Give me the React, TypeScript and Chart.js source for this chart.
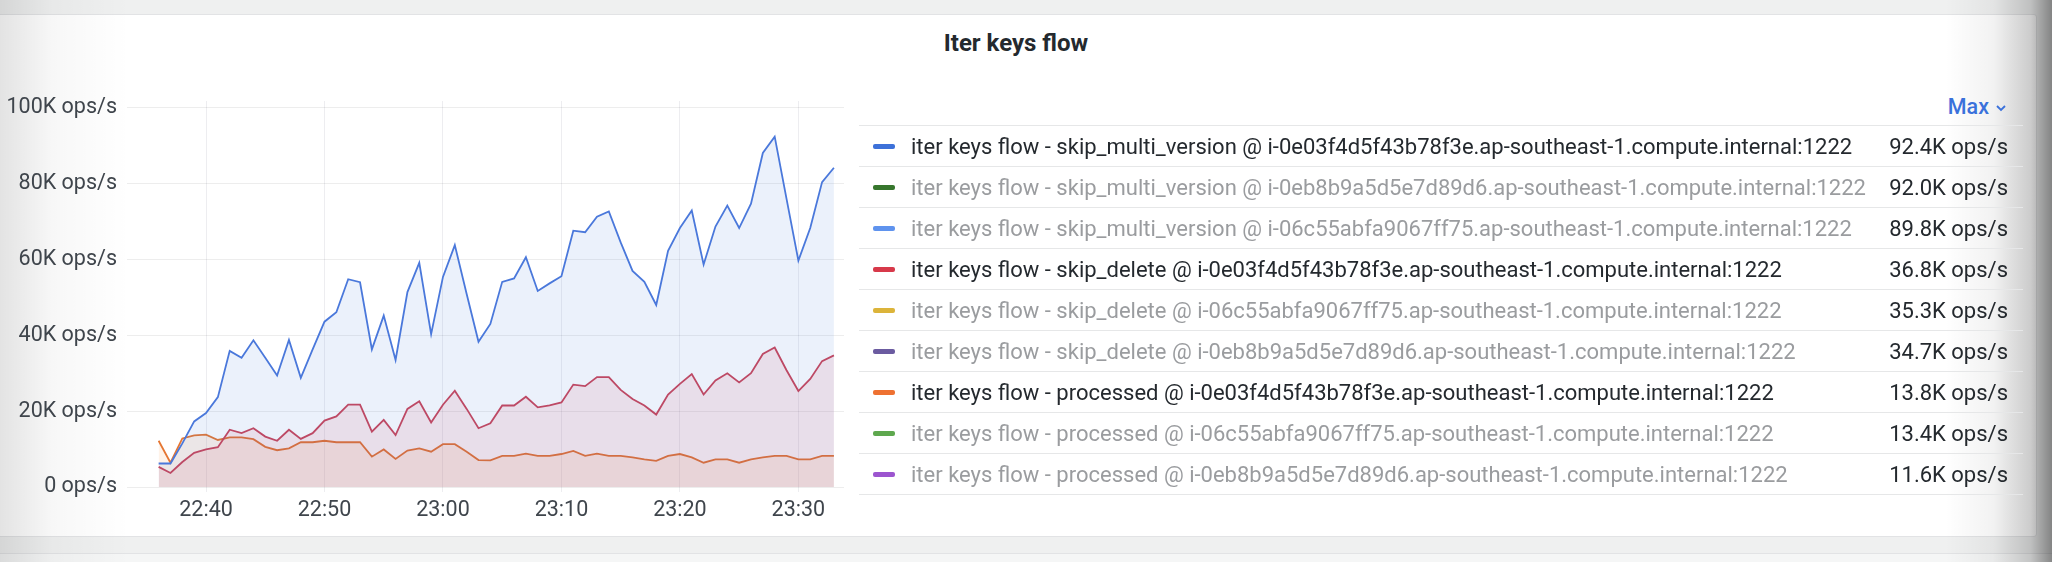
import React, { useEffect, useRef } from "react";
import { Chart, registerables } from "chart.js";

Chart.register(...registerables);

const timeLabels = [
  "22:36", "22:37", "22:38", "22:39", "22:40", "22:41", "22:42", "22:43", "22:44", "22:45",
  "22:46", "22:47", "22:48", "22:49", "22:50", "22:51", "22:52", "22:53", "22:54", "22:55",
  "22:56", "22:57", "22:58", "22:59", "23:00", "23:01", "23:02", "23:03", "23:04", "23:05",
  "23:06", "23:07", "23:08", "23:09", "23:10", "23:11", "23:12", "23:13", "23:14", "23:15",
  "23:16", "23:17", "23:18", "23:19", "23:20", "23:21", "23:22", "23:23", "23:24", "23:25",
  "23:26", "23:27", "23:28", "23:29", "23:30", "23:31", "23:32", "23:33",
];

// values in K ops/s
const skipMultiVersion = [
  6.2, 6.2, 11.5, 17.3, 19.5, 23.7, 35.9, 34.1, 38.7, 34.1,
  29.4, 38.8, 28.8, 36.3, 43.6, 46.1, 54.8, 54.0, 36.3, 45.2,
  33.5, 51.4, 59.1, 40.3, 55.4, 63.8, 50.9, 38.3, 43.0, 54.1,
  55.0, 60.6, 51.7, 53.7, 55.6, 67.6, 67.2, 71.3, 72.7, 64.5,
  57.0, 54.1, 48.0, 62.3, 68.3, 72.9, 58.7, 68.7, 74.2, 68.3,
  74.7, 88.1, 92.4, 76.0, 59.7, 68.3, 80.4, 84.2,
];

const skipDelete = [
  5.3, 3.7, 6.6, 9.0, 9.9, 10.5, 15.1, 14.2, 15.5, 13.3,
  12.2, 15.1, 12.7, 14.2, 17.5, 18.6, 21.7, 21.7, 14.6, 17.7,
  13.7, 20.6, 22.6, 17.0, 21.7, 25.4, 20.6, 15.5, 16.8, 21.5,
  21.5, 23.8, 21.0, 21.5, 22.3, 27.0, 26.6, 29.0, 29.0, 25.6,
  23.2, 21.5, 19.1, 24.4, 27.2, 29.8, 24.4, 28.1, 30.0, 27.6,
  30.0, 35.1, 36.8, 30.8, 25.3, 28.5, 33.2, 34.7,
];

const processed = [
  12.2, 6.4, 12.8, 13.6, 13.8, 12.4, 13.1, 13.1, 12.6, 10.6,
  9.7, 10.2, 11.8, 11.8, 12.2, 11.8, 11.8, 11.8, 8.0, 9.9,
  7.4, 9.6, 10.2, 9.3, 11.3, 11.3, 9.3, 7.1, 7.0, 8.2,
  8.2, 8.8, 8.2, 8.2, 8.7, 9.5, 8.2, 8.8, 8.2, 8.2,
  7.8, 7.3, 6.9, 8.2, 8.7, 7.8, 6.4, 7.3, 7.3, 6.4,
  7.3, 7.8, 8.2, 8.2, 7.3, 7.3, 8.2, 8.2,
];

const xTickLabels = ["22:40", "22:50", "23:00", "23:10", "23:20", "23:30"];
const yTickValues = [0, 20, 40, 60, 80, 100];

const legendNames = [
  "iter keys flow - skip_multi_version @ i-0e03f4d5f43b78f3e.ap-southeast-1.compute.internal:1222",
  "iter keys flow - skip_multi_version @ i-0eb8b9a5d5e7d89d6.ap-southeast-1.compute.internal:1222",
  "iter keys flow - skip_multi_version @ i-06c55abfa9067ff75.ap-southeast-1.compute.internal:1222",
  "iter keys flow - skip_delete @ i-0e03f4d5f43b78f3e.ap-southeast-1.compute.internal:1222",
  "iter keys flow - skip_delete @ i-06c55abfa9067ff75.ap-southeast-1.compute.internal:1222",
  "iter keys flow - skip_delete @ i-0eb8b9a5d5e7d89d6.ap-southeast-1.compute.internal:1222",
  "iter keys flow - processed @ i-0e03f4d5f43b78f3e.ap-southeast-1.compute.internal:1222",
  "iter keys flow - processed @ i-06c55abfa9067ff75.ap-southeast-1.compute.internal:1222",
  "iter keys flow - processed @ i-0eb8b9a5d5e7d89d6.ap-southeast-1.compute.internal:1222",
];
const legendMax = [
  "92.4K ops/s", "92.0K ops/s", "89.8K ops/s",
  "36.8K ops/s", "35.3K ops/s", "34.7K ops/s",
  "13.8K ops/s", "13.4K ops/s", "11.6K ops/s",
];
const legendShown = [true, false, false, true, false, false, true, false, false];

const legendColors = [
  "#3d71d9", "#37762d", "#5f93ee", "#d7394a", "#dcb43a", "#6b5ba0", "#ee7131", "#5ea84e", "#9c55cf",
];

const FONT = "Roboto, 'Noto Sans', sans-serif";

const toMin = (s: string) => {
  const [h, m] = s.split(":").map(Number);
  return h * 60 + m;
};
const fmtMin = (v: number) => {
  const h = Math.floor(v / 60);
  const m = Math.round(v - h * 60);
  return `${String(h).padStart(2, "0")}:${String(m).padStart(2, "0")}`;
};

function IterChart() {
  const ref = useRef<HTMLCanvasElement | null>(null);
  useEffect(() => {
    if (!ref.current) return;
    const mk = (vals: number[]) => timeLabels.map((t, i) => ({ x: toMin(t), y: vals[i] }));
    const chart = new Chart(ref.current, {
      type: "line",
      data: {
        datasets: [
          {
            label: legendNames[0],
            data: mk(skipMultiVersion),
            borderColor: "#4a78db",
            backgroundColor: "rgba(61,113,217,0.10)",
            fill: "origin",
            borderWidth: 1.8,
            pointRadius: 0,
            tension: 0,
          },
          {
            label: legendNames[3],
            data: mk(skipDelete),
            borderColor: "#cc4458",
            backgroundColor: "rgba(224,47,68,0.10)",
            fill: "origin",
            borderWidth: 1.8,
            pointRadius: 0,
            tension: 0,
          },
          {
            label: legendNames[6],
            data: mk(processed),
            borderColor: "#e57632",
            backgroundColor: "rgba(255,120,10,0.09)",
            fill: "origin",
            borderWidth: 1.8,
            pointRadius: 0,
            tension: 0,
          },
        ],
      },
      options: {
        animation: false,
        responsive: false,
        maintainAspectRatio: false,
        devicePixelRatio: 1,
        layout: { padding: { top: 101, right: 16, bottom: 0, left: 0 } },
        plugins: { legend: { display: false }, tooltip: { enabled: false }, title: { display: false } },
        scales: {
          x: {
            type: "linear",
            min: 22 * 60 + 33.33,
            max: 23 * 60 + 33.85,
            afterBuildTicks: (s: any) => {
              s.ticks = xTickLabels.map((l) => ({ value: toMin(l) }));
            },
            afterFit: (s: any) => {
              s.height = 53;
            },
            border: { display: false },
            grid: { color: "rgba(60,60,90,0.09)", lineWidth: 1, drawTicks: true, tickLength: 5 },
            ticks: {
              autoSkip: false,
              maxRotation: 0,
              padding: 6,
              color: "#3f454c",
              font: { family: FONT, size: 21.5 },
              callback: (v: any) => fmtMin(Number(v)),
            },
          },
          y: {
            min: 0,
            max: 101.8,
            afterBuildTicks: (s: any) => {
              s.ticks = yTickValues.map((v) => ({ value: v }));
            },
            afterFit: (s: any) => {
              s.width = 127;
            },
            border: { display: false },
            grid: { color: "rgba(0,0,0,0.07)", lineWidth: 1, drawTicks: false },
            ticks: {
              padding: 10,
              color: "#3f454c",
              font: { family: FONT, size: 21.5 },
              callback: (v: any) => (Number(v) === 0 ? "0 ops/s" : `${v}K ops/s`),
            },
          },
        },
      },
    });
    return () => chart.destroy();
  }, []);
  return (
    <canvas
      ref={ref}
      width={860}
      height={540}
      style={{ position: "absolute", left: 0, top: 0, width: 860, height: 540 }}
    />
  );
}

export default function App() {
  useEffect(() => {
    document.body.style.margin = "0";
  }, []);
  const rowTop = 126;
  const rowH = 41;
  return (
    <div
      style={{
        position: "fixed",
        left: 0,
        top: 0,
        width: 2052,
        height: 562,
        overflow: "hidden",
        background: "#eff0f0",
        fontFamily: FONT,
      }}
    >
      {/* panel */}
      <div
        style={{
          position: "absolute",
          left: -4,
          top: 14,
          width: 2041,
          height: 523,
          background: "#ffffff",
          border: "1px solid #e2e3e5",
          borderRadius: 3,
          boxSizing: "border-box",
        }}
      />
      {/* lower band */}
      <div
        style={{
          position: "absolute",
          left: 0,
          top: 553,
          width: 2052,
          height: 12,
          background: "#f5f6f6",
          borderTop: "1px solid #e2e3e5",
        }}
      />
      {/* left shading */}
      <div
        style={{
          position: "absolute",
          left: 0,
          top: 0,
          width: 130,
          height: 562,
          background: "linear-gradient(to right, rgba(0,0,0,0.11), rgba(0,0,0,0.03) 40%, rgba(0,0,0,0))",
        }}
      />
      {/* right shading */}
      <div
        style={{
          position: "absolute",
          left: 1945,
          top: 0,
          width: 107,
          height: 562,
          background:
            "linear-gradient(to right, rgba(0,0,0,0), rgba(0,0,0,0.05) 45%, rgba(0,0,0,0.2) 80%, rgba(0,0,0,0.45))",
        }}
      />
      {/* title */}
      <div
        style={{
          position: "absolute",
          left: 0,
          width: 2032,
          top: 29,
          textAlign: "center",
          fontWeight: 700,
          fontSize: 24,
          lineHeight: "28px",
          color: "#24292e",
        }}
      >
        Iter keys flow
      </div>
      <IterChart />
      {/* legend header */}
      <div
        style={{
          position: "absolute",
          left: 1900,
          width: 108,
          top: 92,
          height: 28,
          display: "flex",
          justifyContent: "flex-end",
          alignItems: "center",
          color: "#3a71db",
          fontSize: 21.5,
          fontWeight: 500,
        }}
      >
        <span>Max</span>
        <svg width="14" height="10" viewBox="0 0 14 10" style={{ marginLeft: 5, marginTop: 4 }}>
          <polyline points="3,3 7,7 11,3" fill="none" stroke="#3a71db" strokeWidth="1.8" />
        </svg>
      </div>
      <div
        style={{
          position: "absolute",
          left: 859,
          top: rowTop - 1,
          width: 1164,
          height: 1,
          background: "#e6e7e8",
        }}
      />
      {legendNames.map((name, i) => (
        <div
          key={i}
          style={{
            position: "absolute",
            left: 859,
            top: rowTop + i * rowH,
            width: 1164,
            height: rowH,
            borderBottom: "1px solid #e6e7e8",
            boxSizing: "border-box",
            display: "flex",
            alignItems: "center",
            fontSize: 22,
            whiteSpace: "nowrap",
          }}
        >
          <div
            style={{
              marginLeft: 14,
              width: 22,
              height: 5,
              borderRadius: 2,
              background: legendColors[i],
              flex: "none",
            }}
          />
          <div
            style={{
              marginLeft: 16,
              color: legendShown[i] ? "#24292e" : "#9a9c9f",
              flex: "1 1 auto",
            }}
          >
            {name}
          </div>
          <div style={{ marginRight: 15, color: "#24292e", flex: "none" }}>{legendMax[i]}</div>
        </div>
      ))}
    </div>
  );
}
